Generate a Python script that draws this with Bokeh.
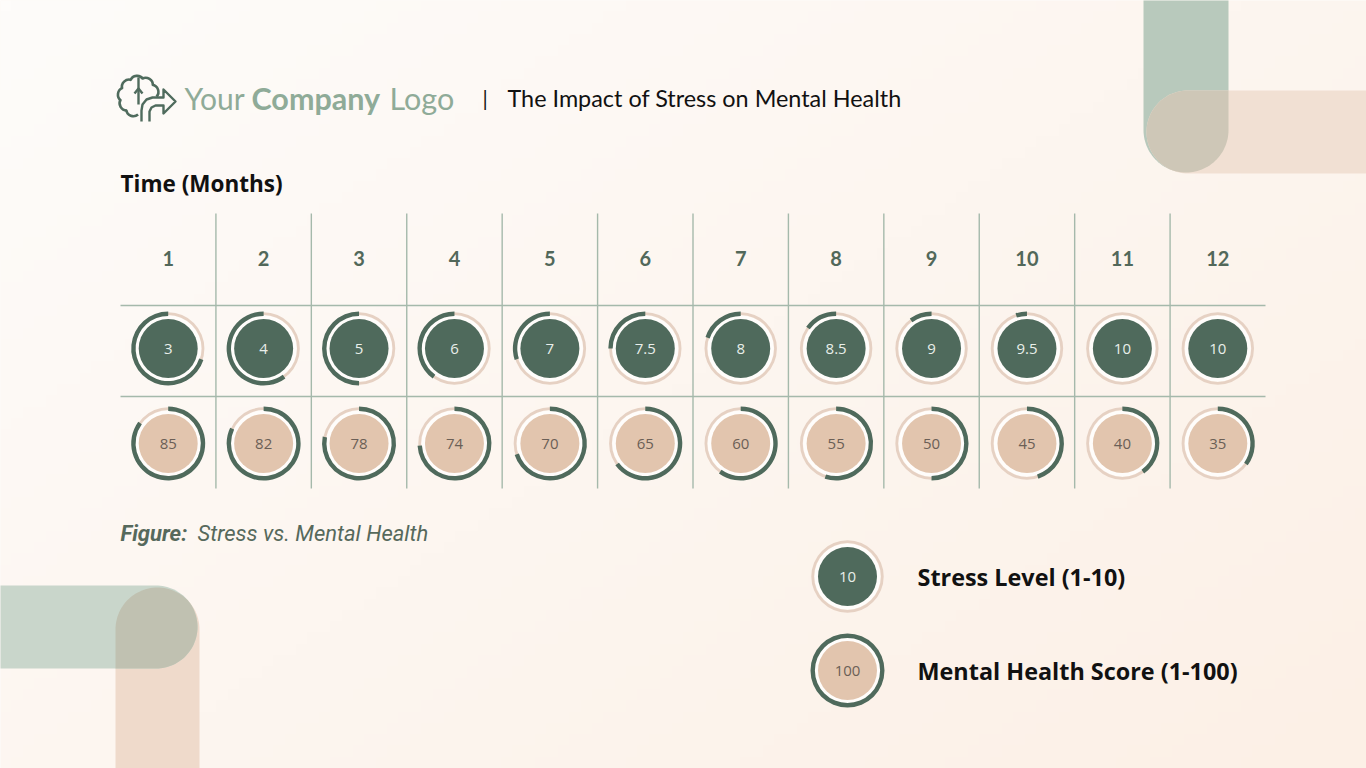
import numpy as np
from bokeh.plotting import figure
from bokeh.models import Range1d, ColumnDataSource
from bokeh.core.properties import value
from bokeh.embed import file_html
from bokeh.resources import INLINE

# ---------------- data ----------------
months = ["1", "2", "3", "4", "5", "6", "7", "8", "9", "10", "11", "12"]
stress = [3, 4, 5, 6, 7, 7.5, 8, 8.5, 9, 9.5, 10, 10]
mental = [85, 82, 78, 74, 70, 65, 60, 55, 50, 45, 40, 35]
stress_max = 10
mental_max = 100
legend_labels = ["Stress Level (1-10)", "Mental Health Score (1-100)"]
legend_values = ["10", "100"]

# ---------------- style ----------------
W, H = 1366, 768
DARK = "#4f6a5c"
BEIGE_FILL = "#e2c5ae"
BEIGE_RING = "#e6d1c3"
GRID = "#a5b9ab"
HEAD = "#52685a"
F_HEAD = "Lato"
F_BOLD = "Open Sans"
F_BODY = "Open Sans"

def Y(py):
    return H - py

p = figure(width=W, height=H, x_range=Range1d(0, W), y_range=Range1d(0, H),
           output_backend="svg", toolbar_location=None, min_border=0)
p.axis.visible = False
p.grid.visible = False
p.outline_line_color = None
p.background_fill_color = "#fdf7f2"
p.border_fill_color = "#fdf7f2"

# background gradient
nx, ny = 120, 68
gx = np.linspace(0, 1, nx)[None, :]
gy = np.linspace(1, 0, ny)[:, None]  # row 0 = bottom
t = np.clip(0.55 * gx + 0.45 * gy, 0, 1)
c0 = np.array([254, 252, 250])
c1 = np.array([252, 240, 230])
img = np.zeros((ny, nx), dtype=np.uint32)
view = img.view(dtype=np.uint8).reshape((ny, nx, 4))
for k in range(3):
    view[:, :, k] = (c0[k] + (c1[k] - c0[k]) * t).astype(np.uint8)
view[:, :, 3] = 255
p.image_rgba(image=[img], x=0, y=0, dw=W, dh=H)

# ---------------- decorative pills ----------------
def pill(x0, y0, x1, y1, r, n=30):
    pts = []
    for cx, cy, a0 in [(x1 - r, y0 + r, -90), (x1 - r, y1 - r, 0),
                       (x0 + r, y1 - r, 90), (x0 + r, y0 + r, 180)]:
        for a in np.linspace(a0, a0 + 90, n):
            ar = np.radians(a)
            pts.append((cx + r * np.cos(ar), cy + r * np.sin(ar)))
    return pts

def clip(subject, clipper):
    def area(poly):
        s = 0
        for i in range(len(poly)):
            x1, y1 = poly[i]; x2, y2 = poly[(i + 1) % len(poly)]
            s += x1 * y2 - x2 * y1
        return s
    sgn = 1 if area(clipper) > 0 else -1
    def inside(pt, a, b):
        return sgn * ((b[0] - a[0]) * (pt[1] - a[1]) - (b[1] - a[1]) * (pt[0] - a[0])) >= 0
    def inter(p1, p2, a, b):
        x1, y1 = p1; x2, y2 = p2; x3, y3 = a; x4, y4 = b
        den = (x1 - x2) * (y3 - y4) - (y1 - y2) * (x3 - x4)
        tt = ((x1 - x3) * (y3 - y4) - (y1 - y3) * (x3 - x4)) / den
        return (x1 + tt * (x2 - x1), y1 + tt * (y2 - y1))
    out = subject
    for i in range(len(clipper)):
        a = clipper[i]; b = clipper[(i + 1) % len(clipper)]
        inp = out; out = []
        if not inp:
            break
        s = inp[-1]
        for e in inp:
            if inside(e, a, b):
                if not inside(s, a, b):
                    out.append(inter(s, e, a, b))
                out.append(e)
            elif inside(s, a, b):
                out.append(inter(s, e, a, b))
            s = e
    return out

def draw_poly(pts, color):
    p.patch([q[0] for q in pts], [Y(q[1]) for q in pts], fill_color=color, line_color=None)

# top right
g1 = pill(1143, -100, 1228, 172, 42.5)
b1 = pill(1146, 90, 1500, 173, 41.5)
draw_poly(g1, "#b8c9bc")
draw_poly(b1, "#f1e0d3")
draw_poly(clip(g1, b1), "#cec7b7")
# bottom left
g2 = pill(-200, 585, 197, 668, 41.5)
b2 = pill(115, 587, 199, 900, 42)
draw_poly(b2, "#efdacb")
draw_poly(g2, "#c9d6cb")
draw_poly(clip(g2, b2), "#c0c1b1")

# ---------------- logo ----------------
ICON = "#4f6b5d"
bc = (138, 96)
R, r = 13.5, 7.2
angs = [20, 58, 96, 134, 172, 210, 248]
for a in angs:
    ar = np.radians(a)
    cx = bc[0] + R * np.cos(ar)
    cy = Y(bc[1]) + R * np.sin(ar)
    p.arc(x=cx, y=cy, radius=r, start_angle=ar - np.radians(62), end_angle=ar + np.radians(62),
          line_color=ICON, line_width=2.6)
p.line([138, 138], [Y(77), Y(104)], line_color=ICON, line_width=2.4)
p.line([134, 138, 142], [Y(93), Y(88), Y(93)], line_color=ICON, line_width=2.4)
arrow = [(141, 121), (141, 110), (142, 104), (146, 99), (152, 97), (163, 97), (163, 89),
         (175, 101), (163, 113), (163, 105), (155, 105), (151, 107), (149, 111), (149, 121)]
p.line([q[0] for q in arrow], [Y(q[1]) for q in arrow], line_color=ICON, line_width=2.4,
       line_join="round")

LOGO = "#8fab98"
p.text(x=[184], y=[Y(97)], text=["Your"], text_font=value(F_HEAD), text_font_size="30px",
       text_color=LOGO, text_baseline="middle")
p.text(x=[251], y=[Y(97)], text=["Company"], text_font=value(F_HEAD), text_font_size="30.5px",
       text_font_style="bold", text_color=LOGO, text_baseline="middle")
p.text(x=[389], y=[Y(97)], text=["Logo"], text_font=value(F_HEAD), text_font_size="30.5px",
       text_color=LOGO, text_baseline="middle")
p.text(x=[482], y=[Y(97)], text=["|"], text_font=value(F_HEAD), text_font_size="21px",
       text_color="#111111", text_baseline="middle")
p.text(x=[507], y=[Y(97)], text=["The Impact of Stress on Mental Health"], text_font=value(F_HEAD),
       text_font_size="23.4px", text_color="#111111", text_baseline="middle")

p.text(x=[120], y=[Y(183)], text=["Time (Months)"], text_font=value(F_BOLD), text_font_size="22.5px",
       text_font_style="bold", text_color="#111111", text_baseline="middle")

# ---------------- table ----------------
x0, x1 = 120, 1265
ncol = len(months)
cw = (x1 - x0) / ncol
xc = [x0 + (i + 0.5) * cw for i in range(ncol)]
row_head, row1, row2 = 258, 348, 443

p.multi_line([[x0 + k * cw, x0 + k * cw] for k in range(1, ncol)],
             [[Y(213), Y(488)] for k in range(1, ncol)], line_color=GRID, line_width=1.4)
p.multi_line([[x0, x1], [x0, x1]], [[Y(305), Y(305)], [Y(396), Y(396)]],
             line_color=GRID, line_width=1.4)

p.text(x=xc, y=[Y(row_head)] * ncol, text=months, text_font=value(F_HEAD), text_font_size="20px",
       text_font_style="bold", text_color=HEAD, text_align="center", text_baseline="middle")

R_IN, R_GAP = 29.5, 32.5
RING_O, RING_I = 37, 32.6
BR_O, BR_I = 36.2, 33.4

def badge(xs, ys, fracs, labels, fill, label_color, mode):
    src = ColumnDataSource(dict(x=xs, y=ys, lab=labels))
    p.circle(x="x", y="y", radius=R_GAP + 0.5, source=src, fill_color="#fffdfb", line_color=None)
    p.annulus(x="x", y="y", inner_radius=BR_I, outer_radius=BR_O, source=src,
              fill_color=BEIGE_RING, line_color=None)
    ax, ay, a0, a1 = [], [], [], []
    for xx, yy, f in zip(xs, ys, fracs):
        if mode == "stress":
            ext = (1 - f) * 2 * np.pi
            s, e = np.pi / 2, np.pi / 2 + ext
        else:
            ext = f * 2 * np.pi
            s, e = np.pi / 2 - ext, np.pi / 2
        if ext <= 1e-6:
            continue
        if ext >= 2 * np.pi - 1e-6:
            p.annulus(x=[xx], y=[yy], inner_radius=RING_I, outer_radius=RING_O,
                      fill_color=DARK, line_color=None)
            continue
        ax.append(xx); ay.append(yy); a0.append(s); a1.append(e)
    if ax:
        p.annular_wedge(x=ax, y=ay, inner_radius=RING_I, outer_radius=RING_O,
                        start_angle=a0, end_angle=a1, direction="anticlock",
                        fill_color=DARK, line_color=None)
    p.circle(x="x", y="y", radius=R_IN, source=src, fill_color=fill, line_color=None)
    p.text(x="x", y="y", text="lab", source=src, text_font=value(F_BODY), text_font_size="15px",
           text_color=label_color, text_align="center", text_baseline="middle")

badge(xc, [Y(row1)] * ncol, [s / stress_max for s in stress], [f"{s:g}" for s in stress],
      DARK, "#e9efea", "stress")
badge(xc, [Y(row2)] * ncol, [m / mental_max for m in mental], [f"{m:g}" for m in mental],
      BEIGE_FILL, "#6b5f56", "mental")

# ---------------- caption ----------------
CAP = "#56695c"
p.text(x=[120], y=[Y(533)], text=["Figure:"], text_font=value("Roboto"), text_font_size="22px",
       text_font_style="bold italic", text_color=CAP, text_baseline="middle")
p.text(x=[197], y=[Y(533)], text=["Stress vs. Mental Health"], text_font=value("Roboto"),
       text_font_size="22px", text_font_style="italic", text_color=CAP, text_baseline="middle")

# ---------------- legend ----------------
lx = 847
badge([lx], [Y(576)], [1.0], [legend_values[0]], DARK, "#e9efea", "stress")
badge([lx], [Y(670)], [1.0], [legend_values[1]], BEIGE_FILL, "#6b5f56", "mental")
p.text(x=[917, 917], y=[Y(576), Y(670)], text=legend_labels, text_font=value(F_BOLD),
       text_font_size="23.4px", text_font_style="bold", text_color="#111111", text_baseline="middle")

open("out.html", "w").write(file_html(p, INLINE))
